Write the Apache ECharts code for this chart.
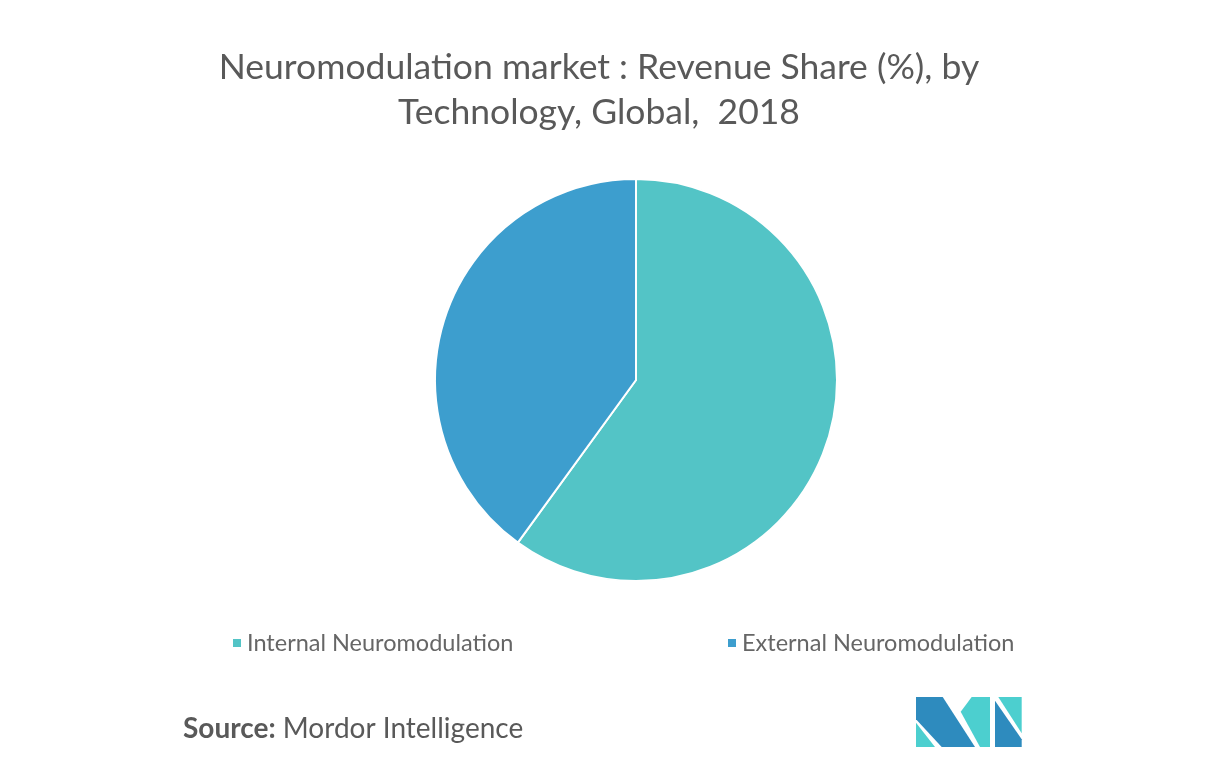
<!DOCTYPE html>
<html>
<head>
<meta charset="utf-8">
<script src="https://cdn.jsdelivr.net/npm/echarts@6/dist/echarts.min.js"></script>
<style>html,body{margin:0;padding:0;background:#fff}#c{width:1217px;height:766px}</style>
</head>
<body>
<div id="c"></div>
<script>
const categories = ['Internal Neuromodulation', 'External Neuromodulation'];
const values = [60, 40];
const colors = ['#53C4C6', '#3D9ECE'];

const chart = echarts.init(document.getElementById('c'));
chart.setOption({
  backgroundColor: '#fff',
  animation: false,
  title: {
    text: 'Neuromodulation market : Revenue Share (%), by\nTechnology, Global,  2018',
    left: 594, top: 40, textAlign: 'center',
    textStyle: { fontFamily: 'Lato', fontWeight: 'normal', fontSize: 35.5, color: '#595959', lineHeight: 45 }
  },
  legend: [
    { data: [categories[0]], left: 226, top: 626, itemWidth: 10, itemHeight: 10, icon: 'rect',
      textStyle: { fontFamily: 'Lato', fontSize: 23.5, color: '#666' } },
    { data: [categories[1]], left: 721, top: 626, itemWidth: 10, itemHeight: 10, icon: 'rect',
      textStyle: { fontFamily: 'Lato', fontSize: 23.5, color: '#666' } }
  ],
  series: [{
    type: 'pie',
    center: [636, 380],
    radius: [0, 201],
    startAngle: 90,
    clockwise: true,
    label: { show: false },
    labelLine: { show: false },
    itemStyle: { borderColor: '#fff', borderWidth: 2 },
    data: categories.map((n, i) => ({ name: n, value: values[i], itemStyle: { color: colors[i] } }))
  }],
  graphic: [
    { type: 'text', left: 183, top: 715, style: { text: '{b|Source:} Mordor Intelligence', rich: { b: { fontWeight: 'bold', fontFamily: 'Lato', fontSize: 28, fill: '#595959' } }, fontFamily: 'Lato', fontSize: 28, fill: '#595959' } },
    { type: 'polygon', shape: { points: [[916,697],[942.7,697],[975,747],[941.7,747],[916,719.3]] }, style: { fill: '#2E8BBE' } },
    { type: 'polygon', shape: { points: [[916,722.7],[916,747],[935,747]] }, style: { fill: '#4CCFCF' } },
    { type: 'polygon', shape: { points: [[971.7,697],[990,697],[990,747],[980,747],[960.7,711.7]] }, style: { fill: '#4CCFCF' } },
    { type: 'polygon', shape: { points: [[998.3,697],[1021.7,697],[1021.7,733.3]] }, style: { fill: '#4CCFCF' } },
    { type: 'polygon', shape: { points: [[995,700.7],[995,747],[1021.7,747],[1021.7,739.3]] }, style: { fill: '#2E8BBE' } }
  ]
});
</script>
</body>
</html>
